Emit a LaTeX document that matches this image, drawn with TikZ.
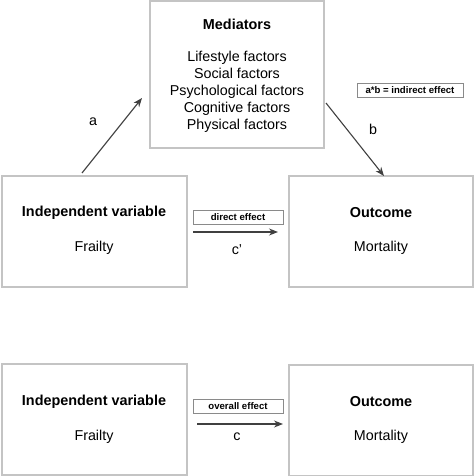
\documentclass[tikz,border=0pt]{standalone}
\usepackage{fontspec}
\setmainfont{Liberation Sans}
\usetikzlibrary{arrows.meta}
\definecolor{boxgray}{HTML}{C4C4C4}
\definecolor{arrgray}{HTML}{404040}
\definecolor{lblgray}{HTML}{8A8A8A}
\tikzset{
  bigbox/.style={draw=boxgray, line width=1.3pt, fill=white, inner sep=0pt},
  tagbox/.style={draw=lblgray, line width=0.9pt, inner sep=0pt, font=\fontsize{9.6}{11}\selectfont\bfseries},
  title/.style={font=\fontsize{14.4}{17}\selectfont\bfseries, inner sep=0pt},
  body/.style={font=\fontsize{14.3}{17}\selectfont, inner sep=0pt, align=center},
  conn/.style={draw=arrgray, line width=1.1pt, -{Stealth[length=9pt,width=7pt]}},
}
\begin{document}
\begin{tikzpicture}[x=1pt,y=-1pt]
\useasboundingbox (0,0) rectangle (474,476);
% boxes
\node[bigbox, minimum width=174pt, minimum height=147pt] (med) at (237,74.5) {};
\node[bigbox, minimum width=185pt, minimum height=111pt] (ind1) at (94.5,231.5) {};
\node[bigbox, minimum width=184pt, minimum height=111pt] (out1) at (381,231.5) {};
\node[bigbox, minimum width=185pt, minimum height=111pt] (ind2) at (94.5,419.5) {};
\node[bigbox, minimum width=184pt, minimum height=111pt] (out2) at (381,420.5) {};
% mediator text
\node[title] (medt) at (237,24) {Mediators};
\node[body] (medl) at (237,92) {Lifestyle factors\\Social factors\\Psychological factors\\Cognitive factors\\Physical factors};
% top row text
\node[title] (ind1t) at (94,213) {Independent variable};
\node[body] (ind1b) at (94,248) {Frailty};
\node[title] (out1t) at (381,213) {Outcome};
\node[body] (out1b) at (381,248) {Mortality};
% bottom row text
\node[title] (ind2t) at (94,402) {Independent variable};
\node[body] (ind2b) at (94,437) {Frailty};
\node[title] (out2t) at (381,402) {Outcome};
\node[body] (out2b) at (381,437) {Mortality};
% tag boxes
\node[tagbox, minimum width=90pt, minimum height=14pt] (direct) at (238,217) {direct effect};
\node[tagbox, minimum width=90pt, minimum height=14pt] (overall) at (238,406) {overall effect};
\node[tagbox, minimum width=106pt, minimum height=14pt] (indirect) at (410,90) {a*b = indirect effect};
% labels
\node[body] (la) at (93,122) {a};
\node[body] (lb) at (373,129) {b};
\node[body] (lc1) at (237,250) {c\textquoteright};
\node[body] (lc2) at (237,437) {c};
% connectors
\coordinate (aS) at (82,173);
\coordinate (aE) at (142,98);
\coordinate (bS) at (326,103);
\coordinate (bE) at (384,176);
\coordinate (c1S) at (193,232);
\coordinate (c1E) at (278,232);
\coordinate (c2S) at (197,424);
\coordinate (c2E) at (283,424);
\draw[conn] (aS) -- (aE);
\draw[conn] (bS) -- (bE);
\draw[conn] (c1S) -- (c1E);
\draw[conn] (c2S) -- (c2E);
\end{tikzpicture}
\end{document}
